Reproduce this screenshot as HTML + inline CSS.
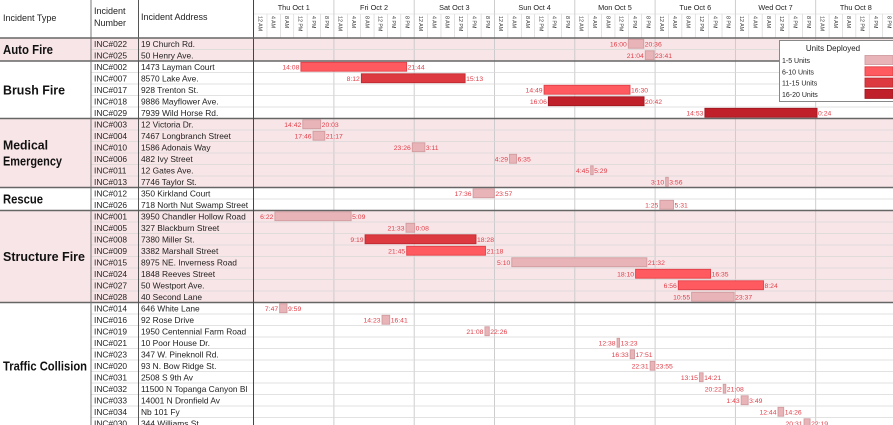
<!DOCTYPE html>
<html><head><meta charset="utf-8"><style>
html,body{margin:0;padding:0;background:#fff;width:893px;height:425px;overflow:hidden}
svg{display:block;font-family:"Liberation Sans",sans-serif}
</style></head><body>
<svg id="s" width="893" height="425" xmlns="http://www.w3.org/2000/svg"></svg>
<script>
const S=document.getElementById('s');let h='';
const X0=253.6,DW=80.3,H0=38,RH=11.5;
const cols=['#e8b4b8','#ff5a5f','#dc3a40','#c0202a'],bcol=['#d09ca0','#e04048','#c02830','#a01820'];
const groups=[
['Auto Fire',true,[['INC#022','19 Church Rd.',[4,16,0,4,20,36,1]],['INC#025','50 Henry Ave.',[4,21,4,4,23,41,1]]]],
['Brush Fire',false,[['INC#002','1473  Layman Court',[0,14,8,1,21,44,2]],['INC#007','8570 Lake Ave.',[1,8,12,2,15,13,3]],['INC#017','928 Trenton St.',[3,14,49,4,16,30,2]],['INC#018','9886 Mayflower Ave.',[3,16,6,4,20,42,4]],['INC#029','7939 Wild Horse Rd.',[5,14,53,7,0,24,4]]]],
['Medical|Emergency',true,[['INC#003','12 Victoria Dr.',[0,14,42,0,20,3,1]],['INC#004','7467 Longbranch Street',[0,17,46,0,21,17,1]],['INC#010','1586  Adonais Way',[1,23,26,2,3,11,1]],['INC#006','482 Ivy Street',[3,4,29,3,6,35,1]],['INC#011','12 Gates Ave.',[4,4,45,4,5,29,1]],['INC#013','7746 Taylor St.',[5,3,10,5,3,56,1]]]],
['Rescue',false,[['INC#012','350 Kirkland Court',[2,17,36,2,23,57,1]],['INC#026','718 North Nut Swamp Street',[5,1,25,5,5,31,1]]]],
['Structure Fire',true,[['INC#001','3950  Chandler Hollow Road',[0,6,22,1,5,9,1]],['INC#005','327 Blackburn Street',[1,21,33,2,0,8,1]],['INC#008','7380 Miller St.',[1,9,19,2,18,28,3]],['INC#009','3382  Marshall Street',[1,21,45,2,21,18,2]],['INC#015','8975 NE. Inverness Road',[3,5,10,4,21,32,1]],['INC#024','1848  Reeves Street',[4,18,10,5,16,35,2]],['INC#027','50 Westport Ave.',[5,6,56,6,8,24,2]],['INC#028','40 Second Lane',[5,10,55,5,23,37,1]]]],
['Traffic Collision',false,[['INC#014','646  White Lane',[0,7,47,0,9,59,1]],['INC#016','92 Rose Drive',[1,14,23,1,16,41,1]],['INC#019','1950  Centennial Farm Road',[2,21,8,2,22,26,1]],['INC#021','10 Poor House Dr.',[4,12,38,4,13,23,1]],['INC#023','347 W. Pineknoll Rd.',[4,16,33,4,17,51,1]],['INC#020','93 N. Bow Ridge St.',[4,22,31,4,23,55,1]],['INC#031','2508 S 9th Av',[5,13,15,5,14,21,1]],['INC#032','11500 N Topanga Canyon Bl',[5,20,22,5,21,8,1]],['INC#033','14001 N Dronfield Av',[6,1,43,6,3,49,1]],['INC#034','Nb 101 Fy',[6,12,44,6,14,26,1]],['INC#030','344 Williams St.',[6,20,31,6,22,19,1]]]]];
const tx=(d,hh,m)=>X0+(d+(hh+m/60)/24)*DW;
const pad=n=>String(n).padStart(2,'0');
const glen={'Auto Fire':50,'Brush Fire':62,'Medical':45,'Emergency':59,'Rescue':40,'Structure Fire':82,'Traffic Collision':84};
let r=0,bars='',lines='',txt='';
groups.forEach(g=>{
 const y0=H0+r*RH,n=g[2].length,y1=y0+n*RH;
 if(g[1])h+=`<rect x="0" y="${y0}" width="893" height="${n*RH}" fill="#f8e5e7"/>`;
 const nm=g[0].split('|');
 const cy=(y0+y1)/2;
 nm.forEach((t,i)=>{txt+=`<text x="3" y="${cy+4.5+(i-(nm.length-1)/2)*16}" font-size="12.5" font-weight="bold" fill="#111" textLength="${glen[t]}" lengthAdjust="spacingAndGlyphs">${t}</text>`});
 g[2].forEach((row,i)=>{
  const y=y0+i*RH;
  if(i>0)lines+=`<line x1="91" x2="893" y1="${y}" y2="${y}" stroke="#d8d8d8" stroke-width="0.8"/>`;
  txt+=`<text x="94" y="${y+8.8}" font-size="8.4" fill="#222">${row[0]}</text><text x="141" y="${y+8.8}" font-size="8.4" fill="#222">${row[1]}</text>`;
  const b=row[2],a=tx(b[0],b[1],b[2]),e=tx(b[3],b[4],b[5]),c=b[6]-1;
  bars+=`<rect x="${a}" y="${y+1.3}" width="${e-a}" height="${RH-2.6}" fill="${cols[c]}" stroke="${bcol[c]}" stroke-width="0.9"/>`;
  txt+=`<text x="${a-1.5}" y="${y+8.3}" font-size="6.8" fill="#e0404a" text-anchor="end">${b[1]}:${pad(b[2])}</text><text x="${e+1}" y="${y+8.3}" font-size="6.8" fill="#e0404a">${b[4]}:${pad(b[5])}</text>`;
 });
 r+=n;
 lines+=`<line x1="0" x2="893" y1="${y1}" y2="${y1}" stroke="#666" stroke-width="1.6"/>`;
});
let grid='';
for(let d=0;d<8;d++){for(let k=0;k<6;k++){const x=X0+d*DW+k*DW/6;
 if(k==0){grid+=`<line x1="${x}" x2="${x}" y1="0" y2="425" stroke="#c8c8c8" stroke-width="0.9"/>`}
 else grid+=`<line x1="${x}" x2="${x}" y1="14" y2="38" stroke="#d0d0d0" stroke-width="0.6"/>`;
 const lbl=['12 AM','4 AM','8 AM','12 PM','4 PM','8 PM'][k];
 const cx=x+DW/12;
 grid+=`<text transform="translate(${cx-2},16) rotate(90)" font-size="5.3" fill="#333">${lbl}</text>`;
}
 const days=['Thu Oct 1','Fri Oct 2','Sat Oct 3','Sun Oct 4','Mon Oct 5','Tue Oct 6','Wed Oct 7','Thu Oct 8'];
 grid+=`<text x="${X0+d*DW+DW/2}" y="10" font-size="7.3" fill="#222" text-anchor="middle">${days[d]}</text>`;
}
grid+=`<line x1="${X0}" x2="893" y1="14" y2="14" stroke="#d8d8d8" stroke-width="0.6"/>`;
h+=grid+lines+bars+txt;
h+=`<line x1="91" x2="91" y1="0" y2="425" stroke="#777" stroke-width="1"/><line x1="138.5" x2="138.5" y1="0" y2="425" stroke="#555" stroke-width="1"/><line x1="253.5" x2="253.5" y1="0" y2="425" stroke="#444" stroke-width="1"/>`;
h+=`<line x1="0" x2="893" y1="38" y2="38" stroke="#666" stroke-width="1.6"/>`;
h+=`<text x="3" y="21" font-size="9" fill="#222">Incident Type</text><text x="94" y="14" font-size="9" fill="#222">Incident</text><text x="94" y="26" font-size="9" fill="#222">Number</text><text x="141" y="20" font-size="9" fill="#222">Incident Address</text>`;
h+=`<rect x="779.5" y="40.5" width="115" height="61" fill="#fff" stroke="#888" stroke-width="1"/><text x="833" y="51" font-size="8" fill="#222" text-anchor="middle">Units Deployed</text>`;
['1-5 Units','6-10 Units','11-15 Units','16-20 Units'].forEach((t,i)=>{const y=55.5+i*11.3;
 h+=`<text x="782" y="${y+7.5}" font-size="7" fill="#222">${t}</text><rect x="865" y="${y}" width="28" height="9" fill="${cols[i]}" stroke="${bcol[i]}" stroke-width="0.9"/>`});
S.innerHTML=h;
</script>
</body></html>
